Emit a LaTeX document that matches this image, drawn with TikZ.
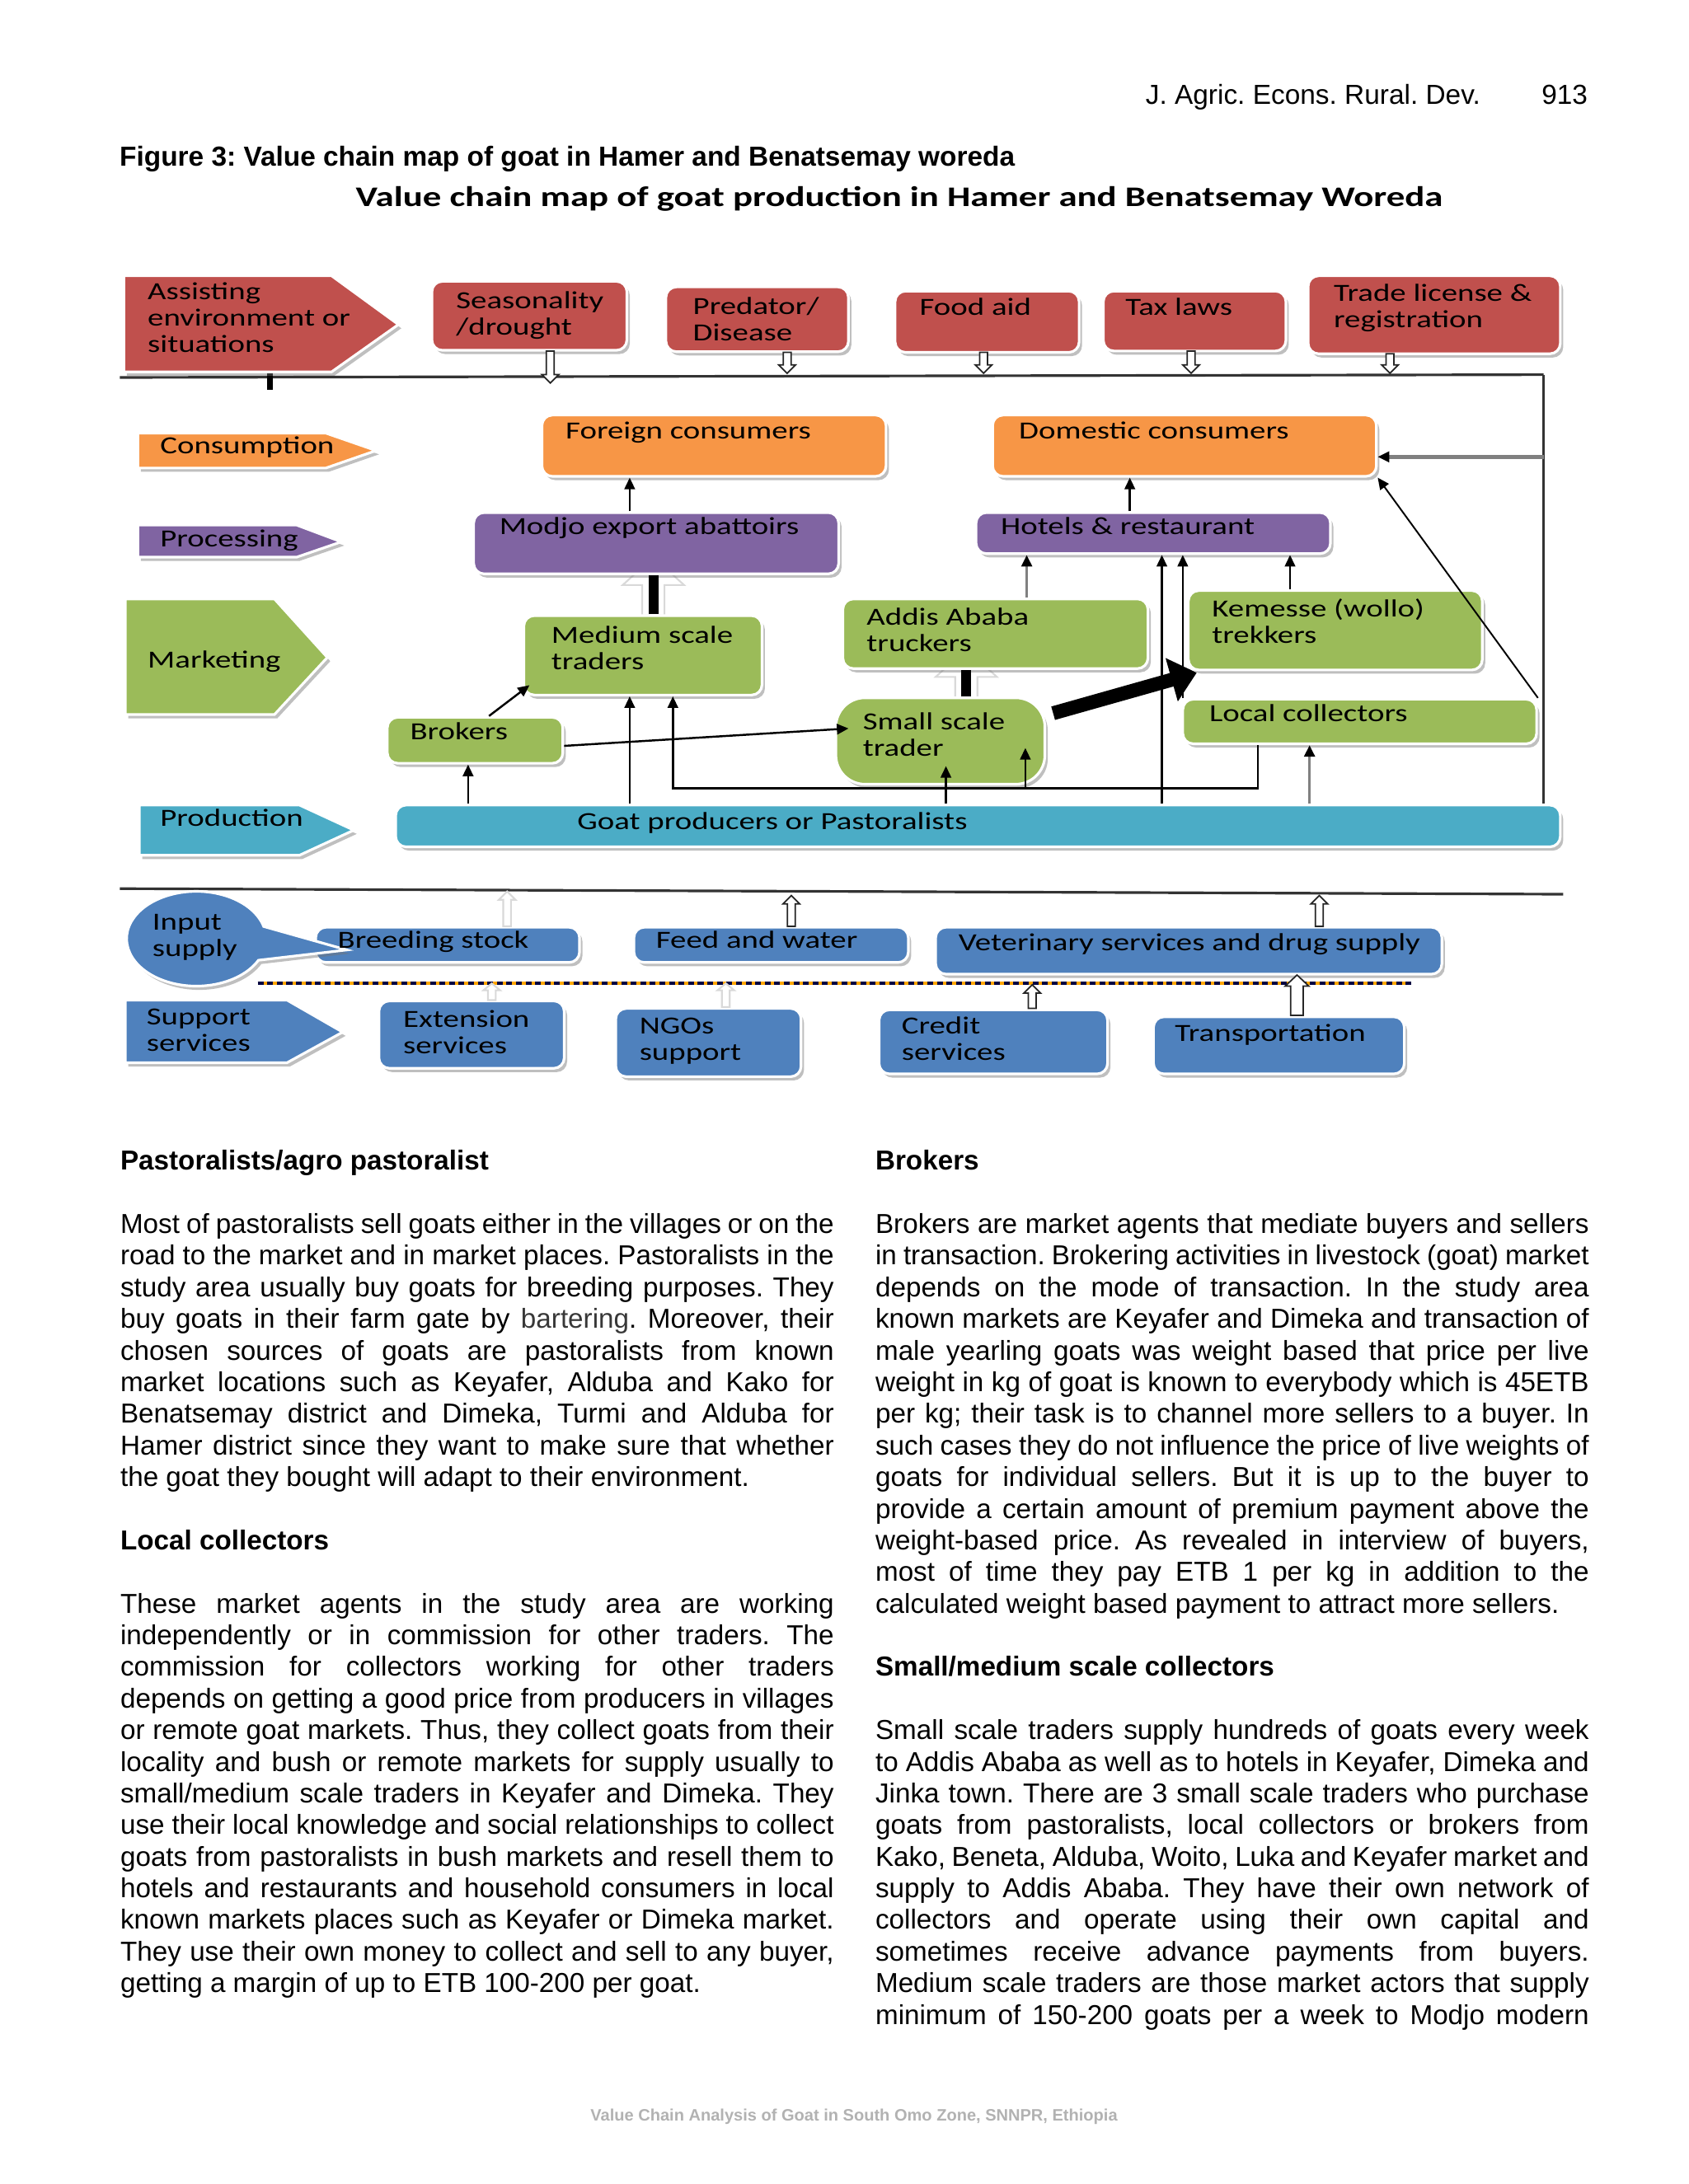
\documentclass[tikz,border=0pt]{standalone}
\usepackage{fontspec}
\setmainfont{Liberation Sans}
\newfontfamily\dfont[FakeStretch=1.3]{Carlito}
\usetikzlibrary{arrows.meta,shadows,fit,calc}
\definecolor{cred}{HTML}{C0504D}
\definecolor{corange}{HTML}{F79646}
\definecolor{cpurple}{HTML}{8064A2}
\definecolor{cgreen}{HTML}{9BBB59}
\definecolor{caqua}{HTML}{4BACC6}
\definecolor{cblue}{HTML}{4F81BD}
\newcommand\bodyfs{\fontsize{9.45}{10.914}\selectfont}
\newcommand\dfs{\dfont\fontsize{8.5}{9.13}\selectfont}
\newcommand\bdown[7]{\draw[#1] ({#2-#5},#3) -- ({#2+#5},#3) -- ({#2+#5},{#4-#7}) -- ({#2+#6},{#4-#7}) -- (#2,#4) -- ({#2-#6},{#4-#7}) -- ({#2-#5},{#4-#7}) -- cycle;}
\newcommand\bup[7]{\draw[#1] ({#2-#5},#3) -- ({#2-#5},{#4+#7}) -- ({#2-#6},{#4+#7}) -- (#2,#4) -- ({#2+#6},{#4+#7}) -- ({#2+#5},{#4+#7}) -- ({#2+#5},#3) -- cycle;}
\tolerance=10000
\hbadness=10000
\hyphenpenalty=10000
\exhyphenpenalty=10000
\parindent=0pt
\frenchspacing
\tikzset{
  rbox/.style={draw=white, line width=0.9pt, rounded corners=3.6pt, inner sep=0pt,
    drop shadow={shadow xshift=1pt, shadow yshift=-1.3pt, opacity=0.45, fill=black!55}},
  pent/.style={draw=white, line width=0.9pt,
    drop shadow={shadow xshift=1pt, shadow yshift=-1.3pt, opacity=0.45, fill=black!55}},
  lbl/.style={font=\dfs, inner sep=0pt, anchor=base west, align=left, text=black},
  conn/.style={draw=black, line width=0.7pt, -{Triangle[length=4pt,width=3.6pt,color=black]}},
  conng/.style={conn, draw=black!50, line width=1pt},
  frame/.style={draw=black!80, line width=0.9pt},
  tbar/.style={draw=black, line width=3.4pt},
  harrow/.style={draw=black!85, fill=white, line width=0.5pt},
  hfaint/.style={draw=black!15, fill=white, line width=0.6pt},
  col/.style={anchor=north west, inner sep=0pt, text width=8.652cm, align=justify, font=\bodyfs}
}
\begin{document}
\begin{tikzpicture}[x=0.016898cm, y=-0.016898cm]
\fill[white] (0,0) rectangle (1212,1568);
\useasboundingbox (0,0) rectangle (1212,1568);

% ---------- page header ----------
\node[anchor=base east, inner sep=0pt, font=\fontsize{9.5}{11}\selectfont] (journal) at (1063,75) {J. Agric. Econs. Rural. Dev.};
\node[anchor=base east, inner sep=0pt, font=\fontsize{9.5}{11}\selectfont] (pageno) at (1140,75) {913};
\node[anchor=base west, inner sep=0pt, font=\bfseries\fontsize{9.5}{11}\selectfont] (caption) at (85.5,119.3) {Figure 3: Value chain map of goat in Hamer and Benatsemay woreda};
\node[anchor=base west, inner sep=0pt, font=\dfont\bfseries\fontsize{9.8}{11}\selectfont] (title) at (255,148) {Value chain map of goat production in Hamer and Benatsemay Woreda};

% ---------- frame lines ----------
\coordinate (tr) at (1108,269);
\draw[frame] (86,271) -- (tr);
\draw[frame] (86,638) -- (1122,642);
\draw[line width=1pt, draw=orange!70!yellow] (185,706) -- (1013,706);
\draw[line width=1pt, draw=blue!25!black, dash pattern=on 2pt off 1.3pt] (185,706) -- (1013,706);
\draw[line width=2pt] (193.7,265) -- (193.7,280);

% ---------- row label arrows (pentagons) ----------
\draw[pent, fill=cred] (89,198) -- (238,198) -- (286,233) -- (238,267) -- (89,267) -- cycle;
\draw[pent, fill=corange] (99,311) -- (234,311) -- (270,323.5) -- (234,336) -- (99,336) -- cycle;
\draw[pent, fill=cpurple] (99,377) -- (213,377) -- (245,389) -- (213,400) -- (99,400) -- cycle;
\draw[pent, fill=cgreen] (90,430) -- (197,430) -- (235,472) -- (197,513) -- (90,513) -- cycle;
\draw[pent, fill=caqua] (100,578) -- (215,578) -- (254,596) -- (215,614) -- (100,614) -- cycle;
\draw[pent, fill=cblue] (90,718) -- (206,718) -- (246,741) -- (206,763) -- (90,763) -- cycle;

% ---------- block arrow outlines behind thick bars ----------
\bup{hfaint}{469}{442}{400}{8}{22}{20}
\bup{hfaint}{693.6}{501}{466}{8}{22}{20}

% ---------- boxes ----------
\node[rbox, fill=cred, fit={(310,202) (450,251.5)}] (season) {};
\node[rbox, fill=cred, fit={(478,206) (609,252.5)}] (pred) {};
\node[rbox, fill=cred, fit={(642.5,209) (774.6,253)}] (food) {};
\node[rbox, fill=cred, fit={(792,209) (923,252)}] (tax) {};
\node[rbox, fill=cred, fit={(939,198) (1120,254)}] (trade) {};
\node[rbox, fill=corange, fit={(389,298) (636,342)}] (foreign) {};
\node[rbox, fill=corange, fit={(712.5,298) (988,342)}] (domestic) {};
\node[rbox, fill=cpurple, fit={(340,368) (602,412)}] (modjo) {};
\node[rbox, fill=cpurple, fit={(700.6,368) (955,397.5)}] (hotels) {};
\node[rbox, fill=cgreen, fit={(376,442) (547,499)}] (medium) {};
\node[rbox, fill=cgreen, fit={(605,430) (824,480)}] (addis) {};
\node[rbox, fill=cgreen, fit={(853,424) (1064,481)}] (kemesse) {};
\node[rbox, fill=cgreen, fit={(278,515) (404,548)}] (brokers) {};
\node[rbox, fill=cgreen, rounded corners=10pt, fit={(600,501) (750,563)}] (small) {};
\node[rbox, fill=cgreen, fit={(849,502) (1103,534)}] (local) {};
\node[rbox, fill=caqua, fit={(284,578) (1120,608)}] (prod) {};
\node[rbox, fill=cblue, fit={(226.6,665.7) (416,691)}] (breed) {};
\node[rbox, fill=cblue, fit={(455,665.7) (652,691)}] (feed) {};
\node[rbox, fill=cblue, fit={(671.6,665.7) (1035,699.4)}] (vet) {};
\node[rbox, fill=cblue, fit={(272,718.6) (405,767)}] (ext) {};
\node[rbox, fill=cblue, fit={(442,724) (575,773)}] (ngo) {};
\node[rbox, fill=cblue, fit={(631,725) (795,771)}] (credit) {};
\node[rbox, fill=cblue, fit={(828,730) (1008,771)}] (trans) {};

% input supply callout
\draw[pent, fill=cblue] (185.5,689.4) arc[start angle=-27, end angle=-345, x radius=0.845cm, y radius=0.5745cm] -- (249,682) -- cycle;

% ---------- hollow block arrows ----------
\bdown{harrow}{395}{252}{275}{2.8}{6}{6}
\bdown{harrow}{565}{253}{268}{2.8}{6}{6}
\bdown{harrow}{706}{253}{268}{2.8}{6}{6}
\bdown{harrow}{855}{252}{268}{2.8}{6}{6}
\bdown{harrow}{997.7}{254}{268}{2.8}{6}{6}
\bup{hfaint}{364}{665}{640}{2.8}{6}{6}
\bup{harrow}{568}{665}{643}{2.8}{6}{6}
\bup{harrow}{947}{665}{643}{2.8}{6}{6}
\bup{hfaint}{353}{718}{706}{2.8}{6}{5}
\bup{hfaint}{521}{723}{706}{2.8}{6}{5}
\bup{harrow}{741}{724}{707}{2.8}{6}{6}
\bup{harrow}{931}{729}{700}{4.5}{8.5}{8}

% ---------- thick bars and big arrow ----------
\draw[tbar] (469,0 |- medium.north) -- (469,0 |- modjo.south);
\draw[tbar] (693.6,0 |- small.north) -- (693.6,0 |- addis.south);
\draw[draw=black, line width=4.8pt, -{Triangle[length=9pt,width=15pt]}] ($(small.north east)+(5,12)$) -- ($(kemesse.south west)+(7,1)$);

% ---------- connectors ----------
\coordinate (bus) at (0,566);
\coordinate (rin) at (1108,328);
\coordinate (smallin) at (736,537);
\coordinate (smallin2) at (679,550);
\draw[conn] (452,0 |- modjo.north) -- (452,0 |- foreign.south);
\draw[conn] (811,0 |- hotels.north) -- (811,0 |- domestic.south);
\draw[conn] (351,0 |- brokers.north) -- ($(medium.south west)+(5,-8)$);
\draw[conn] ($(brokers.east)+(0,4)$) -- ($(small.west)+(10,-9)$);
\draw[conn] (336,0 |- prod.north) -- (336,0 |- brokers.south);
\draw[conn] (452,0 |- prod.north) -- (452,0 |- medium.south);
\draw[conn] (903,0 |- local.south) -- (903,0 |- bus) -- (483,0 |- bus) -- (483,0 |- medium.south);
\draw[conn] (736,0 |- bus) -- (smallin);
\draw[conn] (679,0 |- prod.north) -- (smallin2);
\draw[conn] (834,0 |- prod.north) -- (834,0 |- hotels.south);
\draw[conn] (849,0 |- local.north) -- (849,0 |- hotels.south);
\draw[conng] (737,0 |- addis.north) -- (737,0 |- hotels.south);
\draw[conn] (926,0 |- kemesse.north) -- (926,0 |- hotels.south);
\draw[conng] (940,0 |- prod.north) -- (940,0 |- local.south);
\draw[conn, line width=0.55pt] (local.north east) -- (domestic.south east);
\draw[frame] (tr) -- (1108,0 |- prod.north);
\draw[conng, line width=1.3pt] (rin) -- (domestic.east |- rin);

% ---------- labels (multi-line: anchored at the last line's baseline) ----------
\node[lbl] (tassist) at (105.6,253) {Assisting\\environment or\\situations};
\node[lbl] (tseason) at (327,240.6) {Seasonality\\/drought};
\node[lbl] (tpred) at (497,244.5) {Predator/\\Disease};
\node[lbl] (tfood) at (659.7,226.4) {Food aid};
\node[lbl] (ttax) at (807.5,226.4) {Tax laws};
\node[lbl] (ttrade) at (957,235) {Trade license \&\\registration};
\node[lbl] (tcons) at (114.6,326) {Consumption};
\node[lbl] (tforeign) at (405.6,315) {Foreign consumers};
\node[lbl] (tdomestic) at (731,315) {Domestic consumers};
\node[lbl] (tproc) at (114.6,392.6) {Processing};
\node[lbl] (tmodjo) at (358,384) {Modjo export abattoirs};
\node[lbl] (thotels) at (718,384) {Hotels \& restaurant};
\node[lbl] (tmark) at (105.6,479.7) {Marketing};
\node[lbl] (tmedium) at (395.4,481) {Medium scale\\traders};
\node[lbl] (taddis) at (621.7,468) {Addis Ababa\\truckers};
\node[lbl] (tkem) at (869.6,461.6) {Kemesse (wollo)\\trekkers};
\node[lbl] (tbrokers) at (294,531) {Brokers};
\node[lbl] (tsmall) at (619,542.8) {Small scale\\trader};
\node[lbl] (tlocal) at (867.6,517.8) {Local collectors};
\node[lbl] (tprodn) at (114.6,593.4) {Production};
\node[lbl] (tgoat) at (414,595.3) {Goat producers or Pastoralists};
\node[lbl] (tinput) at (109,686.5) {Input\\supply};
\node[lbl] (tbreed) at (242,680.5) {Breeding stock};
\node[lbl] (tfeed) at (470.5,680.5) {Feed and water};
\node[lbl] (tvet) at (687.6,682.5) {Veterinary services and drug supply};
\node[lbl] (tsupport) at (104.8,755) {Support\\services};
\node[lbl] (text) at (289,756.5) {Extension\\services};
\node[lbl] (tngo) at (458.6,761) {NGOs\\support};
\node[lbl] (tcredit) at (646.8,761) {Credit\\services};
\node[lbl] (ttrans) at (843,747.6) {Transportation};

% ---------- body text ----------
\node[col] (leftcol) at (86,823.8) {\strut\textbf{Pastoralists/agro pastoralist}\par
\vspace{\baselineskip}
Most of pastoralists sell goats either in the villages or on the\linebreak
road to the market and in market places. Pastoralists in the\linebreak
study area usually buy goats for breeding purposes. They\linebreak
buy goats in their farm gate by {\color{black!78}bartering}. Moreover, their\linebreak
chosen sources of goats are pastoralists from known\linebreak
market locations such as Keyafer, Alduba and Kako for\linebreak
Benatsemay district and Dimeka, Turmi and Alduba for\linebreak
Hamer district since they want to make sure that whether\linebreak
the goat they bought will adapt to their environment.\par
\vspace{\baselineskip}
\textbf{Local collectors}\par
\vspace{\baselineskip}
These market agents in the study area are working\linebreak
independently or in commission for other traders. The\linebreak
commission for collectors working for other traders\linebreak
depends on getting a good price from producers in villages\linebreak
or remote goat markets. Thus, they collect goats from their\linebreak
locality and bush or remote markets for supply usually to\linebreak
small/medium scale traders in Keyafer and Dimeka. They\linebreak
use their local knowledge and social relationships to collect\linebreak
goats from pastoralists in bush markets and resell them to\linebreak
hotels and restaurants and household consumers in local\linebreak
known markets places such as Keyafer or Dimeka market.\linebreak
They use their own money to collect and sell to any buyer,\linebreak
getting a margin of up to ETB 100-200 per goat.\par};

\node[col] (rightcol) at (628,823.8) {\strut\textbf{Brokers}\par
\vspace{\baselineskip}
Brokers are market agents that mediate buyers and sellers\linebreak
in transaction. Brokering activities in livestock (goat) market\linebreak
depends on the mode of transaction. In the study area\linebreak
known markets are Keyafer and Dimeka and transaction of\linebreak
male yearling goats was weight based that price per live\linebreak
weight in kg of goat is known to everybody which is 45ETB\linebreak
per kg; their task is to channel more sellers to a buyer. In\linebreak
such cases they do not influence the price of live weights of\linebreak
goats for individual sellers. But it is up to the buyer to\linebreak
provide a certain amount of premium payment above the\linebreak
weight-based price. As revealed in interview of buyers,\linebreak
most of time they pay ETB 1 per kg in addition to the\linebreak
calculated weight based payment to attract more sellers.\par
\vspace{\baselineskip}
\textbf{Small/medium scale collectors}\par
\vspace{\baselineskip}
Small scale traders supply hundreds of goats every week\linebreak
to Addis Ababa as well as to hotels in Keyafer, Dimeka and\linebreak
Jinka town. There are 3 small scale traders who purchase\linebreak
goats from pastoralists, local collectors or brokers from\linebreak
Kako, Beneta, Alduba, Woito, Luka and Keyafer market and\linebreak
supply to Addis Ababa. They have their own network of\linebreak
collectors and operate using their own capital and\linebreak
sometimes receive advance payments from buyers.\linebreak
Medium scale traders are those market actors that supply\linebreak
minimum of 150-200 goats per a week to Modjo modern\parfillskip=0pt\par};

% ---------- footer ----------
\node[anchor=base, inner sep=0pt, font=\bfseries\fontsize{5.7}{6.5}\selectfont, text=black!30] (footer) at (613,1522.6) {Value Chain Analysis of Goat in South Omo Zone, SNNPR, Ethiopia};
\end{tikzpicture}
\end{document}
